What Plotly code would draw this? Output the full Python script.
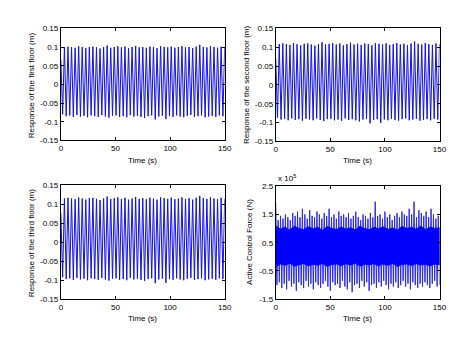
import numpy as np
import plotly.graph_objects as go

# ---------------- data ----------------
floor1_start = 0.065
floor1_peaks = [0.100, 0.101, 0.100, 0.098, 0.102, 0.100, 0.097, 0.100, 0.101, 0.099, 0.096, 0.100,
                0.104, 0.098, 0.100, 0.102, 0.099, 0.101, 0.097, 0.100, 0.103, 0.099, 0.100, 0.098,
                0.101, 0.100, 0.097, 0.102, 0.100, 0.099, 0.101, 0.098, 0.100, 0.102, 0.099, 0.100,
                0.097, 0.101, 0.106, 0.100, 0.099, 0.102, 0.100, 0.098, 0.101, 0.100]
floor1_troughs = [-0.080, -0.085, -0.083, -0.087, -0.082, -0.086, -0.084, -0.088, -0.083, -0.085,
                  -0.087, -0.082, -0.086, -0.089, -0.084, -0.083, -0.087, -0.085, -0.088, -0.082,
                  -0.086, -0.084, -0.087, -0.090, -0.085, -0.083, -0.094, -0.086, -0.084, -0.093,
                  -0.085, -0.087, -0.083, -0.086, -0.088, -0.084, -0.082, -0.087, -0.085, -0.083,
                  -0.088, -0.086, -0.084, -0.087, -0.083, -0.085]

floor2_start = 0.072
floor2_peaks = [0.108, 0.110, 0.108, 0.106, 0.111, 0.108, 0.105, 0.109, 0.110, 0.107, 0.104, 0.108,
                0.113, 0.107, 0.109, 0.111, 0.107, 0.110, 0.105, 0.108, 0.112, 0.107, 0.109, 0.106,
                0.110, 0.108, 0.105, 0.111, 0.109, 0.107, 0.110, 0.106, 0.108, 0.111, 0.107, 0.109,
                0.105, 0.110, 0.115, 0.109, 0.107, 0.111, 0.108, 0.106, 0.110, 0.108]
floor2_troughs = [-0.087, -0.092, -0.090, -0.094, -0.089, -0.093, -0.091, -0.095, -0.090, -0.092,
                  -0.094, -0.089, -0.093, -0.096, -0.091, -0.090, -0.094, -0.092, -0.095, -0.089,
                  -0.093, -0.091, -0.094, -0.097, -0.092, -0.090, -0.102, -0.093, -0.091, -0.101,
                  -0.092, -0.094, -0.090, -0.093, -0.095, -0.091, -0.089, -0.094, -0.092, -0.090,
                  -0.095, -0.093, -0.091, -0.094, -0.090, -0.092]

floor3_start = 0.075
floor3_peaks = [0.115, 0.117, 0.115, 0.113, 0.118, 0.115, 0.112, 0.116, 0.117, 0.114, 0.111, 0.115,
                0.120, 0.114, 0.116, 0.118, 0.114, 0.117, 0.112, 0.115, 0.119, 0.114, 0.116, 0.113,
                0.117, 0.115, 0.112, 0.118, 0.116, 0.114, 0.117, 0.113, 0.115, 0.118, 0.114, 0.116,
                0.112, 0.117, 0.122, 0.116, 0.114, 0.118, 0.115, 0.113, 0.117, 0.115]
floor3_troughs = [-0.092, -0.097, -0.095, -0.099, -0.094, -0.098, -0.096, -0.100, -0.095, -0.097,
                  -0.099, -0.094, -0.098, -0.101, -0.096, -0.095, -0.099, -0.097, -0.100, -0.094,
                  -0.098, -0.096, -0.099, -0.102, -0.097, -0.095, -0.108, -0.098, -0.096, -0.107,
                  -0.097, -0.099, -0.095, -0.098, -0.100, -0.096, -0.094, -0.099, -0.097, -0.095,
                  -0.100, -0.098, -0.096, -0.099, -0.095, -0.097]

# control force, in units of 1e5 N as displayed
force_up = [1.95, 1.30, 1.45, 1.35, 1.50, 1.40, 1.30, 1.55, 1.45, 1.60, 1.40, 1.70, 1.50, 1.35, 1.65,
            1.45, 1.40, 1.60, 1.50, 1.35, 1.55, 1.45, 1.70, 1.40, 1.50, 1.35, 1.60, 1.45, 1.50, 1.40,
            1.55, 1.35, 1.45, 1.60, 1.40, 1.30, 1.50, 1.45, 1.35, 1.55, 1.40, 1.95, 1.45, 1.50, 1.35,
            1.60, 1.40, 1.50, 1.30, 1.45, 1.55, 1.40, 1.60, 1.50, 1.45, 1.70, 1.50, 1.95, 1.40, 1.65,
            1.55, 1.45, 1.60, 1.40, 1.70, 1.50, 1.35, 1.45]
force_low = [-1.00, -0.90, -1.10, -0.95, -1.15, -0.85, -1.05, -0.95, -1.20, -0.90, -1.00, -1.10,
             -0.85, -1.05, -0.95, -1.15, -0.90, -1.00, -1.10, -0.95, -0.85, -1.05, -1.20, -0.90,
             -1.00, -0.95, -1.10, -0.85, -1.05, -1.15, -0.90, -1.25, -1.00, -0.95, -1.10, -0.85,
             -1.05, -0.90, -1.20, -1.00, -0.95, -1.10, -0.90, -1.05, -0.85, -1.00, -1.15, -0.95,
             -1.05, -0.90, -1.10, -1.00, -0.85, -1.05, -0.95, -1.15, -0.90, -1.00, -1.10, -0.95,
             -1.05, -0.90, -1.00, -1.10, -0.95, -0.85, -1.05, -1.00]
force_core_top = [1.10, 0.98, 1.05, 0.95, 1.08, 1.00, 0.96, 1.06, 0.99, 1.04, 0.94, 1.07, 1.00, 0.97,
                  1.05, 0.98, 1.03, 0.95, 1.08, 1.00, 0.96, 1.04, 0.99, 1.06, 0.97, 1.02, 0.95, 1.07,
                  1.00, 1.04, 0.98, 1.08, 0.96, 1.05, 1.00, 1.03]
force_core_bot = [-0.35, -0.25, -0.30, -0.22, -0.33, -0.27, -0.24, -0.32, -0.26, -0.30, -0.23, -0.34,
                  -0.27, -0.25, -0.31, -0.24, -0.29, -0.22, -0.33, -0.26, -0.28, -0.24, -0.32, -0.25,
                  -0.30, -0.23, -0.34, -0.27, -0.25, -0.31, -0.24, -0.29, -0.26, -0.32, -0.25, -0.28]

resp_ticks = [-0.15, -0.1, -0.05, 0, 0.05, 0.1, 0.15]
resp_ticktext = ["-0.15", "-0.1", "-0.05", "0", "0.05", "0.1", "0.15"]
force_ticks = [-1.5, -0.5, 0.5, 1.5, 2.5]
force_ticktext = ["-1.5", "-0.5", "0.5", "1.5", "2.5"]
time_ticks = [0, 50, 100, 150]

W, H = 474, 350
FONT = "Liberation Sans, Arial, sans-serif"
BLUE = "#1010f0"


def zigzag(start, peaks, troughs):
    vals = [start]
    for tr, pk in zip(troughs, peaks):
        vals.append(tr)
        vals.append(pk)
    return vals


def px(x):
    return x / W


def py(y):
    return 1 - y / H


fig = go.Figure()

series = [zigzag(floor1_start, floor1_peaks, floor1_troughs),
          zigzag(floor2_start, floor2_peaks, floor2_troughs),
          zigzag(floor3_start, floor3_peaks, floor3_troughs)]
axes_ids = ["", "2", "3"]
for vals, ax in zip(series, axes_ids):
    t = np.linspace(0, 150, len(vals))
    fig.add_trace(go.Scatter(x=t, y=vals, mode="lines", line=dict(color=BLUE, width=1),
                             xaxis="x" + ax, yaxis="y" + ax, showlegend=False, hoverinfo="skip"))

# force: spikes zigzag then dense core band
fz = []
for u, l in zip(force_up, force_low):
    fz.append(u)
    fz.append(l)
tf = np.linspace(0, 150, len(fz))
fig.add_trace(go.Scatter(x=tf, y=fz, mode="lines", line=dict(color="#2a2af0", width=1),
                         xaxis="x4", yaxis="y4", showlegend=False, hoverinfo="skip"))
tc = np.linspace(0, 150, len(force_core_top))
fig.add_trace(go.Scatter(x=np.concatenate([tc, tc[::-1]]),
                         y=list(force_core_top) + list(force_core_bot)[::-1],
                         mode="lines", fill="toself", fillcolor="#0000ff",
                         line=dict(color="#0000ff", width=1),
                         xaxis="x4", yaxis="y4", showlegend=False, hoverinfo="skip"))

boxes = {
    "": (60, 227, 25, 140),
    "2": (279, 446, 25, 141),
    "3": (60, 227, 186, 303),
    "4": (279, 446, 187, 303),
}

axcommon = dict(showline=True, mirror="ticks", ticks="inside", ticklen=3, linecolor="black",
                linewidth=1, tickcolor="black", showgrid=False, zeroline=False,
                tickfont=dict(family=FONT, size=8, color="black"))
layout = {}
for ax, (x0, x1, y0, y1) in boxes.items():
    xa = dict(axcommon, domain=[px(x0), px(x1)], range=[0, 150], tickvals=time_ticks,
              anchor="y" + ax)
    if ax == "4":
        ya = dict(axcommon, domain=[py(y1), py(y0)], range=[-1.5, 2.5], tickvals=force_ticks,
                  ticktext=force_ticktext, anchor="x" + ax)
    else:
        ya = dict(axcommon, domain=[py(y1), py(y0)], range=[-0.15, 0.15], tickvals=resp_ticks,
                  ticktext=resp_ticktext, anchor="x" + ax)
    layout["xaxis" + ax] = xa
    layout["yaxis" + ax] = ya

fig.update_layout(**layout)

ann = []
for xc, yc in [(143, 161), (362, 161), (143, 323), (362, 323)]:
    ann.append(dict(text="Time (s)", x=px(xc), y=py(yc), xref="paper", yref="paper",
                    showarrow=False, xanchor="center", yanchor="middle",
                    font=dict(family=FONT, size=8, color="black")))
for txt, xc, yc in [("Response of the first floor (m)", 30, 83),
                    ("Response of the second floor (m)", 250, 83),
                    ("Response of the third floor (m)", 30, 245),
                    ("Active Control Force (N)", 253, 244)]:
    ann.append(dict(text=txt, x=px(xc), y=py(yc), xref="paper", yref="paper", textangle=-90,
                    showarrow=False, xanchor="center", yanchor="middle",
                    font=dict(family=FONT, size=8, color="black")))
ann.append(dict(text="x 10<sup>5</sup>", x=px(279), y=py(179), xref="paper", yref="paper",
                showarrow=False, xanchor="left", yanchor="middle",
                font=dict(family=FONT, size=8, color="black")))

fig.update_layout(width=W, height=H, margin=dict(l=0, r=0, t=0, b=0),
                  paper_bgcolor="white", plot_bgcolor="white", annotations=ann)

fig.write_html("out.html")
